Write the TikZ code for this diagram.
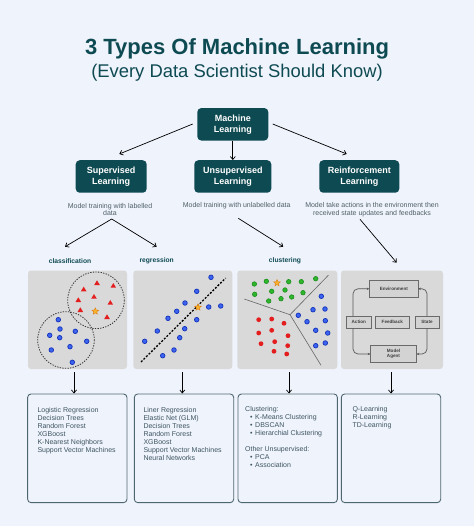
\documentclass[tikz,border=0pt]{standalone}
\usepackage{fontspec}
\setmainfont{Liberation Sans}
\usetikzlibrary{arrows.meta,shapes.geometric}
\definecolor{bg}{HTML}{EFF3FC}
\definecolor{tealc}{HTML}{0E4A52}
\definecolor{desc}{HTML}{4F5F66}
\definecolor{listc}{HTML}{3D5561}
\definecolor{listborder}{HTML}{4E6670}
\definecolor{panelc}{HTML}{D9D9D9}
\definecolor{bluef}{HTML}{3C64F0}
\definecolor{blued}{HTML}{1634B8}
\definecolor{greenf}{HTML}{2DB52D}
\definecolor{greend}{HTML}{1A8A1A}
\definecolor{redf}{HTML}{E41E1E}
\definecolor{starf}{HTML}{F8B52C}
\definecolor{stard}{HTML}{E07A10}
\definecolor{rlfill}{HTML}{D3D3D3}
\definecolor{rldraw}{HTML}{6A6A6A}
\tikzset{
  mlbox/.style={fill=tealc, rounded corners=4pt, text=white, align=center,
    font=\bfseries\fontsize{9}{11}\selectfont, inner sep=0pt, minimum height=32.5pt},
  desctxt/.style={text=desc, align=center, font=\fontsize{7}{7.8}\selectfont, inner sep=0pt},
  lbl/.style={text=tealc, font=\bfseries\fontsize{6.7}{8}\selectfont, inner sep=0pt},
  arr/.style={draw=black, line width=0.7pt, -{Straight Barb[length=3pt,width=5pt]}},
  panel/.style={fill=panelc, rounded corners=3pt, inner sep=0pt, minimum height=98.5pt},
  listbox/.style={draw=listborder, line width=0.9pt, rounded corners=3.5pt, fill=bg, inner sep=0pt,
    minimum height=108.7pt, minimum width=99.4pt},
  listtxt/.style={text=listc, font=\fontsize{7}{8}\selectfont, inner sep=0pt, anchor=base west},
  bdot/.style={fill=bluef, draw=blued, line width=0.7pt},
  gdot/.style={fill=greenf, draw=greend, line width=0.5pt},
  rdot/.style={fill=redf},
  tri/.style={fill=redf},
  starn/.style={star, star points=5, star point ratio=2.2, fill=starf, draw=stard, line width=0.4pt,
    minimum size=7pt, inner sep=0pt},
  circd/.style={draw=black!80, line width=0.8pt, dash pattern=on 1.3pt off 1.3pt},
  rlbox/.style={fill=rlfill, draw=rldraw, line width=0.7pt, inner sep=0pt, align=center,
    text=black!75, font=\bfseries\fontsize{4.6}{5.4}\selectfont},
  rlarr/.style={draw=black!65, line width=0.7pt, rounded corners=5pt, -{Stealth[length=2.5pt,width=2.5pt]}}
}
\begin{document}
\begin{tikzpicture}[x=1pt,y=-1pt]
\fill[bg] (0,0) rectangle (474,526);
\useasboundingbox (0,0) rectangle (474,526);

% titles
\node[text=tealc, font=\bfseries\fontsize{22}{26}\selectfont, inner sep=0pt] (title) at (237,49) {3 Types Of Machine Learning};
\node[text=tealc, font=\fontsize{18.4}{22}\selectfont, inner sep=0pt] (subtitle) at (237,72.5) {(Every Data Scientist Should Know)};

% top boxes
\node[mlbox, minimum width=71pt] (ml) at (232.8,124.3) {Machine\\Learning};
\node[mlbox, minimum width=71pt] (sup) at (111.2,176.5) {Supervised\\Learning};
\node[mlbox, minimum width=77pt] (unsup) at (232.8,176.5) {Unsupervised\\Learning};
\node[mlbox, minimum width=80pt] (reinf) at (359.3,176.5) {Reinforcement\\Learning};

\coordinate (mlL) at (192.7,124);
\coordinate (supT) at (119.3,154);
\coordinate (mlR) at (272.7,124);
\coordinate (reT) at (346.7,154);
\draw[arr] (mlL) -- (supT);
\draw[arr] (mlR) -- (reT);
\draw[arr] (ml.south) -- (unsup.north);

% descriptions
\node[desctxt] (d1) at (110,209.5) {Model training with labelled\\data};
\node[desctxt] (d2) at (236.7,205.7) {Model training with unlabelled data};
\node[desctxt] (d3) at (372,209.5) {Model take actions in the environment then\\received state updates and feedbacks};

\coordinate (s1) at (111.7,219);
\coordinate (e1) at (65,246.7);
\coordinate (e2) at (156.7,246.7);
\coordinate (s3) at (238.3,218.3);
\coordinate (e3) at (283.3,246.7);
\coordinate (s4) at (360,219.3);
\coordinate (e4) at (396.7,262.7);
\draw[arr] (s1) -- (e1);
\draw[arr] (s1) -- (e2);
\draw[arr] (s3) -- (e3);
\draw[arr] (s4) -- (e4);

% labels
\node[lbl] (lclass) at (70,260.7) {classification};
\node[lbl] (lreg) at (156.7,260.7) {regression};
\node[lbl] (lclus) at (285,260.7) {clustering};

% panels
\node[panel, minimum width=99pt] (p1) at (77.5,319.75) {};
\node[panel, minimum width=99pt] (p2) at (182.8,319.75) {};
\node[panel, minimum width=100pt] (p3) at (287.3,319.75) {};
\node[panel, minimum width=102pt] (p4) at (392,319.75) {};

% panel 1: classification
\draw[circd] (96,300.3) circle (28.3);
\draw[circd] (66,340) circle (28.3);
\foreach \x/\y in {97/283, 113.3/285.7, 83.7/289.3, 78.3/300, 94/296.7, 110.3/302.7, 80.3/310, 107/317}
  \fill[tri] (\x,\y-2.7) -- (\x+2.8,\y+2) -- (\x-2.8,\y+2) -- cycle;
\foreach \x/\y in {58.3/319.7, 60/329, 75.3/331.3, 49.7/335.3, 59.7/337.7, 86.7/341.3, 70/346.7, 51.3/350, 72.3/362.3}
  \draw[bdot] (\x,\y) circle (2.3);
\node[starn] (st1) at (95.3,311.3) {};

% panel 2: regression
\draw[black, line width=1.3pt, dash pattern=on 2pt off 1.6pt] (141,362) -- (225.7,278);
\foreach \x/\y in {211/277.3, 196.7/291.3, 185/303, 176.7/311.3, 208.7/307, 220.7/306, 168/318.3, 196.7/319.7, 184.7/328.7, 157.3/331, 179.7/337.7, 144.7/341.3, 174/350, 162.7/355.7}
  \draw[bdot] (\x,\y) circle (2.3);
\node[starn] (st2) at (198,307.3) {};

% panel 3: clustering
\draw[black!60, line width=0.6pt] (244.3,299) -- (290,314.7) -- (328.3,275.3);
\draw[black!60, line width=0.6pt] (290,314.7) -- (321,365.3);
\foreach \x/\y in {254.3/284, 266.3/281.3, 288.7/281.7, 301.3/281.7, 315.7/278.7, 254.7/294.3, 271.7/291.3, 285/290, 303/292.7, 268.7/301, 281/298.7, 291.7/297}
  \draw[gdot] (\x,\y) circle (2.3);
\node[starn] (st3) at (277,283) {};
\foreach \x/\y in {258.7/319.7, 271.7/319, 284/323.3, 258.7/333, 271.7/330.3, 288/335.7, 261/343.7, 274.7/341.7, 287.7/345.7, 274/351.3, 286.7/354}
  \fill[rdot] (\x,\y) circle (2.4);
\foreach \x/\y in {321.3/296.3, 313/309.7, 325/309, 298.3/315.3, 307/321.7, 325.3/320.7, 315.7/330.3, 327.7/333, 315.7/345.7, 325.3/343}
  \draw[bdot] (\x,\y) circle (2.3);

% panel 4: reinforcement loop
\node[rlbox, minimum width=48.3pt, minimum height=17pt] (env) at (393.8,288.8) {Environment};
\node[rlbox, minimum width=25pt, minimum height=11.7pt] (act) at (358.8,322.2) {Action};
\node[rlbox, minimum width=34.7pt, minimum height=11.7pt] (fb) at (392.3,322.2) {Feedback};
\node[rlbox, minimum width=24pt, minimum height=11.7pt] (sta) at (427,322.2) {State};
\node[rlbox, minimum width=45.7pt, minimum height=17.4pt] (agent) at (393.5,354) {Model\\Agent};
\draw[rlarr] ([xshift=-5.8pt]act.north) |- (env.west);
\draw[rlarr] ([xshift=-5.8pt]act.south) |- (agent.west);
\draw[rlarr] (sta.north) |- (env.east);
\draw[rlarr] (sta.south) |- (agent.east);

% list boxes
\node[listbox] (l1) at (77.3,448.3) {};
\node[listbox] (l2) at (184,448.3) {};
\node[listbox] (l3) at (287.7,448.3) {};
\node[listbox] (l4) at (391,448.3) {};

\coordinate (a1) at (74,372);
\coordinate (a2) at (182.3,372);
\coordinate (a3) at (289,372);
\coordinate (a4) at (391,372);
\draw[arr] (a1) -- (a1 |- l1.north);
\draw[arr] (a2) -- (a2 |- l2.north);
\draw[arr] (a3) -- (a3 |- l3.north);
\draw[arr] (a4) -- (a4 |- l4.north);

% list texts
\foreach \t [count=\i] in {Logistic Regression, Decision Trees, Random Forest, XGBoost, K-Nearest Neighbors, Support Vector Machines}
  \node[listtxt] (la\i) at (37.3, 412.4+8*\i-8) {\t};
\foreach \t [count=\i] in {Liner Regression, Elastic Net (GLM), Decision Trees, Random Forest, XGBoost, Support Vector Machines, Neural Networks}
  \node[listtxt] (lb\i) at (143.3, 412.4+8*\i-8) {\t};
\node[listtxt] (lc0) at (245,411.7) {Clustering:};
\foreach \t [count=\i] in {K-Means Clustering, DBSCAN, Hierarchial Clustering}
  {\node[listtxt] (lcb\i) at (249.8, 411.7+8*\i) {\textbullet};
   \node[listtxt] (lc\i) at (255, 411.7+8*\i) {\t};}
\node[listtxt] (ld0) at (245,451.7) {Other Unsupervised:};
\foreach \t [count=\i] in {PCA, Association}
  {\node[listtxt] (ldb\i) at (249.8, 451.7+8*\i) {\textbullet};
   \node[listtxt] (ld\i) at (255, 451.7+8*\i) {\t};}
\foreach \t [count=\i] in {Q-Learning, R-Learning, TD-Learning}
  \node[listtxt] (le\i) at (352.3, 411.7+8*\i-8) {\t};
\end{tikzpicture}
\end{document}
